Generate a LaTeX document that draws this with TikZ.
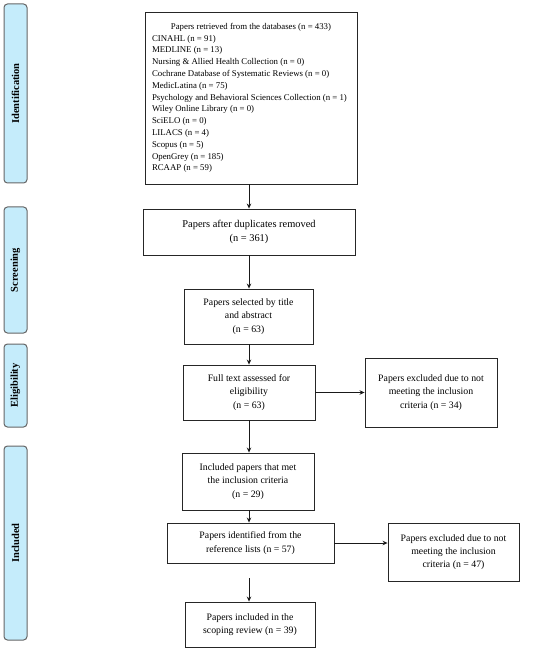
\documentclass[tikz,border=0pt]{standalone}
\usepackage{fontspec}
\setmainfont{Liberation Serif}
\usetikzlibrary{arrows.meta}
\definecolor{phasefill}{RGB}{197,236,251}
\begin{document}
\begin{tikzpicture}[x=1pt,y=-1pt,
  phase/.style={draw=black!60, fill=phasefill, line width=1pt, rounded corners=3.5pt,
    minimum width=23pt, inner sep=0pt, font=\fontsize{10.5}{12}\selectfont\bfseries},
  stepbox/.style={draw=black!85, line width=0.9pt, align=center, inner sep=1pt,
    font=\fontsize{9.8}{13.2}\selectfont},
  conn/.style={draw=black!90, line width=0.8pt, -{Stealth[length=5pt,width=4.5pt]}}
]
\useasboundingbox (0,0) rectangle (550,652);
% phase sidebars
\node[phase, minimum height=179pt] (pid) at (15.5,93.5) {\rotatebox{90}{Identification}};
\node[phase, minimum height=126pt] (psc) at (15.5,270) {\rotatebox{90}{Screening}};
\node[phase, minimum height=83pt] (pel) at (15.5,385.5) {\rotatebox{90}{Eligibility}};
\node[phase, minimum height=194pt] (pin) at (15.5,543) {\rotatebox{90}{Included}};
% boxes
\node[stepbox, minimum width=212pt, minimum height=172pt, font=\fontsize{8.8}{11.8}\selectfont] (db) at (251,98)
 {\parbox{198pt}{\centering Papers retrieved from the databases (n = 433)\par\raggedright
 CINAHL (n = 91)\\
 MEDLINE (n = 13)\\
 Nursing \& Allied Health Collection (n = 0)\\
 Cochrane Database of Systematic Reviews (n = 0)\\
 MedicLatina (n = 75)\\
 Psychology and Behavioral Sciences Collection (n = 1)\\
 Wiley Online Library (n = 0)\\
 SciELO (n = 0)\\
 LILACS (n = 4)\\
 Scopus (n = 5)\\
 OpenGrey (n = 185)\\
 RCAAP (n = 59)}};
\node[stepbox, minimum width=212pt, minimum height=46pt, font=\fontsize{10.4}{14}\selectfont] (dup) at (249,232)
 {Papers after duplicates removed\\(n = 361)};
\node[stepbox, minimum width=129pt, minimum height=55pt] (sel) at (248.5,316.5)
 {Papers selected by title\\and abstract\\(n = 63)};
\node[stepbox, minimum width=132pt, minimum height=55pt] (full) at (249,392.5)
 {Full text assessed for\\eligibility\\(n = 63)};
\node[stepbox, minimum width=132pt, minimum height=69pt] (ex1) at (431,392.5)
 {Papers excluded due to not\\meeting the inclusion\\criteria (n = 34)};
\node[stepbox, minimum width=132pt, minimum height=57pt] (inc) at (248,481.5)
 {Included papers that met\\the inclusion criteria\\(n = 29)};
\node[stepbox, minimum width=167pt, minimum height=40pt] (ref) at (250.5,543)
 {Papers identified from the\\reference lists (n = 57)};
\node[stepbox, minimum width=131pt, minimum height=58pt] (ex2) at (453.5,552)
 {Papers excluded due to not\\meeting the inclusion\\criteria (n = 47)};
\node[stepbox, minimum width=130pt, minimum height=45pt] (fin) at (250,624.5)
 {Papers included in the\\scoping review (n = 39)};
% connectors
\draw[conn] (db.south -| dup.north) -- (dup.north);
\draw[conn] (dup.south) -- (dup.south |- sel.north);
\draw[conn] (sel.south -| full.north) -- (full.north);
\draw[conn] (full.south) -- (full.south |- inc.north);
\draw[conn] (inc.south -| full.south) -- (full.south |- ref.north);
\draw[conn, shorten <=15pt] (ref.south -| full.south) -- (full.south |- fin.north);
\draw[conn] (full.east) -- (ex1.west);
\draw[conn] (ref.east) -- (ref.east -| ex2.west);
\end{tikzpicture}
\end{document}
